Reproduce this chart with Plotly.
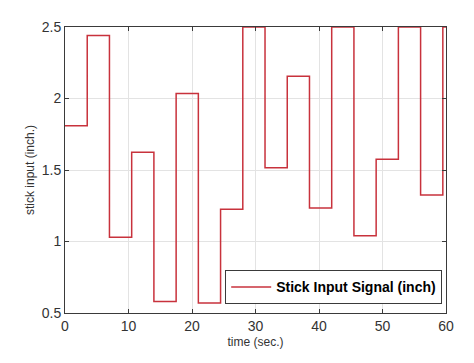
import plotly.graph_objects as go

step_starts = [0, 3.5, 7, 10.5, 14, 17.5, 21, 24.5, 28, 31.5, 35, 38.5, 42, 45.5, 49, 52.5, 56, 59.5, 60]
stick_values = [1.81, 2.44, 1.03, 1.625, 0.58, 2.035, 0.57, 1.225, 2.5, 1.515, 2.155, 1.235, 2.5, 1.04, 1.575, 2.5, 1.325, 2.5, 2.5]
x_ticks = [0, 10, 20, 30, 40, 50, 60]
y_ticks = [0.5, 1, 1.5, 2, 2.5]

fig = go.Figure()
fig.add_trace(go.Scatter(
    x=step_starts, y=stick_values, mode="lines", line_shape="hv",
    line=dict(color="#c8323c", width=1.5),
    name="<b>Stick Input Signal (inch)</b>",
))

axis_common = dict(
    showline=True, linecolor="#3a3a3a", linewidth=1, mirror="ticks",
    ticks="inside", ticklen=4, tickcolor="#3a3a3a",
    showgrid=True, gridcolor="#e3e3e3", gridwidth=1, zeroline=False,
    tickfont=dict(family="Arial, Liberation Sans", size=14, color="#333333"),
)
fig.update_layout(
    width=466, height=355,
    margin=dict(l=57, r=28, t=19, b=50),
    paper_bgcolor="white", plot_bgcolor="white",
    xaxis=dict(range=[0, 60], tickvals=x_ticks,
               title=dict(text="time (sec.)", font=dict(family="Arial, Liberation Sans", size=12, color="#333333"), standoff=4),
               **axis_common),
    yaxis=dict(range=[0.5, 2.5], tickvals=y_ticks, ticktext=["0.5", "1", "1.5", "2", "2.5"],
               title=dict(text="stick input (inch.)", font=dict(family="Arial, Liberation Sans", size=12, color="#333333"), standoff=4),
               **axis_common),
    showlegend=True,
    legend=dict(x=0.99, y=0.03, xanchor="right", yanchor="bottom",
                bgcolor="white", bordercolor="#3a3a3a", borderwidth=1,
                font=dict(family="Arial, Liberation Sans", size=14, color="black"),
                itemwidth=40, tracegroupgap=0),
)
fig.write_html("out.html")
